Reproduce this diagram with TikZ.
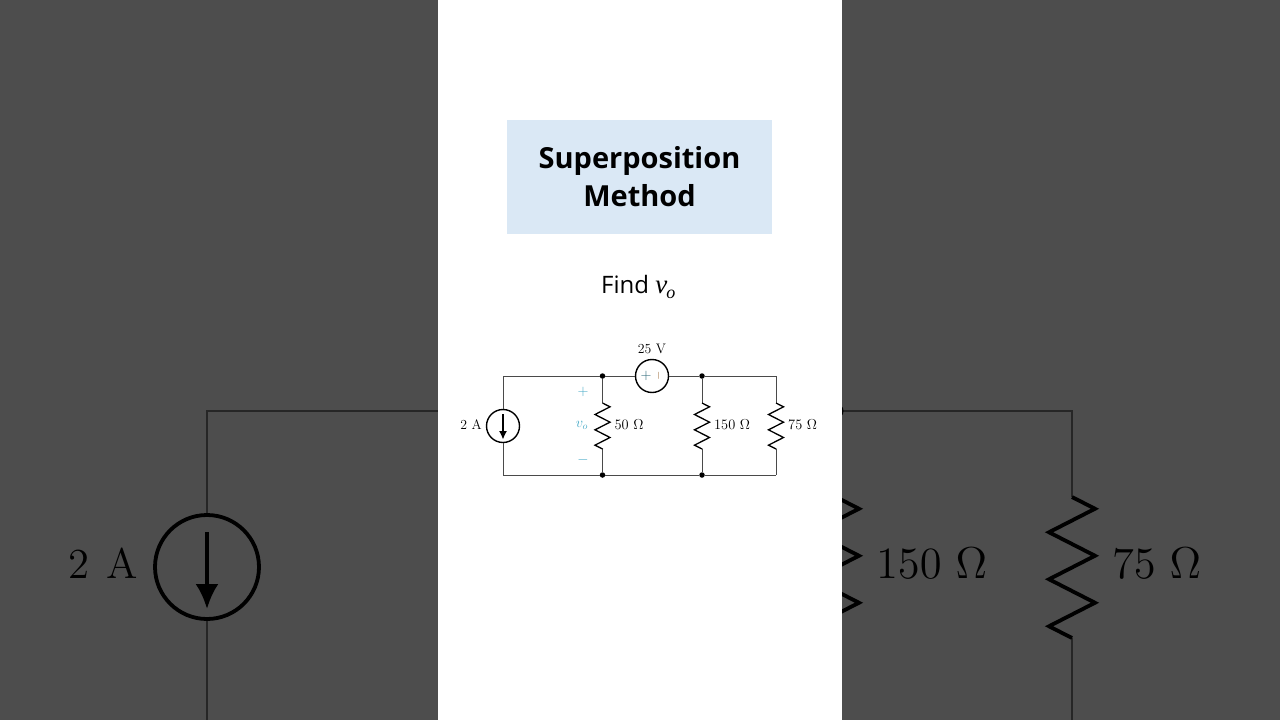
\documentclass[tikz,border=0pt]{standalone}
\usepackage{fontspec}
\usepackage{amsmath}
\usetikzlibrary{arrows.meta,decorations.pathmorphing}
\newfontfamily\titlefont{Open Sans}
\newfontfamily\varfont{Liberation Serif}
\definecolor{dimbg}{HTML}{4D4D4D}
\definecolor{titlebg}{HTML}{DAE8F5}
\definecolor{vocolor}{HTML}{48ABC8}
\definecolor{wiregray}{HTML}{4A4A4A}
\tikzset{
  wire/.style={draw=wiregray,line width=1pt},
  res/.style={draw=black,line width=1.3pt,decorate,decoration={zigzag,segment length=15.33pt,amplitude=7.5pt}},
  src/.style={circle,draw=black,line width=1.4pt,minimum size=33pt,inner sep=0pt},
  dot/.style={circle,fill=black,minimum size=5.5pt,inner sep=0pt},
  val/.style={inner sep=0pt,font=\fontsize{13.8}{16}\selectfont},
  bigwire/.style={draw=black!85,line width=1.4pt},
  bigres/.style={draw=black,line width=3.8pt,decorate,decoration={zigzag,segment length=47pt,amplitude=23pt}},
  bigval/.style={inner sep=0pt,text=black,scale=3.1,font=\fontsize{13.8}{16}\selectfont},
}
\begin{document}
\begin{tikzpicture}[x=1pt,y=-1pt]
\useasboundingbox (0,0) rectangle (1280,720);
% Dimmed background
\fill[dimbg] (0,0) rectangle (1280,720);
\coordinate (bigtl) at (207,411);
\coordinate (bigbl) at (207,720);
\coordinate (bigtr) at (1072,411);
\coordinate (bigbr) at (1072,720);
\coordinate (bigm) at (836,411);
\coordinate (bigmb) at (836,720);
\coordinate (bigra) at (1072,497);
\coordinate (bigrb) at (1072,638);
\coordinate (bigma) at (836,497);
\coordinate (bigmc) at (836,638);
\node[circle,draw=black,line width=3.8pt,minimum size=104pt,inner sep=0pt] (bigsrc) at (207,567) {};
\coordinate (bigsa) at (207,532);
\coordinate (bigsb) at (207,609);
\draw[bigwire] (bigsrc) -- (bigtl) -- (bigtr) -- (bigra);
\draw[bigwire] (bigsrc) -- (bigbl);
\draw[bigwire] (bigrb) -- (bigbr);
\draw[bigwire] (bigm) -- (bigma);
\draw[bigwire] (bigmc) -- (bigmb);
\draw[bigres] (bigra) -- (bigrb);
\draw[bigres] (bigma) -- (bigmc);
\draw[line width=3.8pt,-{Latex[length=25pt,width=23pt]}] (bigsa) -- (bigsb);
\node[dot,minimum size=15pt] (bigdot) at (bigm) {};
\node[bigval,anchor=east] (bigsrclbl) at (139,563) {2\kern1pt~A};
\node[bigval,anchor=west] (bigmlbl) at (875.5,563) {$150~\Omega$};
\node[bigval,anchor=west] (bigrlbl) at (1111.5,563) {$75~\Omega$};
% White panel
\fill[white] (438,0) rectangle (842,720);
% Title
\node[fill=titlebg,minimum width=265pt,minimum height=114pt,inner sep=0pt,align=center,
  font=\titlefont\bfseries\fontsize{29}{38}\selectfont] (title) at (639.5,177) {Superposition\\Method};
\node[inner sep=0pt,anchor=west,font=\titlefont\fontsize{24}{28}\selectfont] (find) at (601,286.5)
  {Find {\varfont\itshape\fontsize{27}{28}\selectfont v\kern-1pt\raisebox{-5pt}{\fontsize{18}{20}\selectfont o}}};
% Junctions
\node[dot] (n1) at (602.5,376) {};
\node[dot] (n2) at (702,376) {};
\node[dot] (n3) at (602.5,475) {};
\node[dot] (n4) at (702,475) {};
\coordinate (tl) at (503,376);
\coordinate (bl) at (503,475);
\coordinate (tr) at (776,376);
\coordinate (br) at (776,475);
% Sources
\node[src] (isrc) at (503,426) {};
\node[src] (vsrc) at (652,376) {};
\coordinate (ia) at (503,414);
\coordinate (ib) at (503,439.5);
\draw[line width=1.4pt,-{Latex[length=8.5pt,width=8pt]}] (ia) -- (ib);
\node[inner sep=0pt,text=black!40!vocolor,font=\fontsize{14}{15}\selectfont] (vplus) at (646,376) {$+$};
\node[inner sep=0pt,text=brown!80!black,rotate=90,font=\fontsize{12}{15}\selectfont] (vminus) at (658.5,376) {$-$};
% Wires
\draw[wire] (isrc) -- (tl) -- (n1) -- (vsrc) -- (n2) -- (tr);
\draw[wire] (isrc) -- (bl) -- (n3) -- (n4) -- (br);
% Resistors
\foreach \name/\xpos/\top/\bot in {ra/602.5/n1/n3,rb/702/n2/n4,rc/776/tr/br}{
  \coordinate (\name a) at (\xpos,403);
  \coordinate (\name b) at (\xpos,449);
  \draw[wire] (\top) -- (\name a);
  \draw[wire] (\name b) -- (\bot);
  \draw[res] (\name a) -- (\name b);
}
% Labels
\node[val] (vlbl) at (652,349) {25~V};
\node[val,anchor=east] (ilbl) at (482,424.5) {2~A};
\node[val,anchor=west] (ralbl) at (614.5,424.5) {$50~\Omega$};
\node[val,anchor=west] (rblbl) at (714,424.5) {$150~\Omega$};
\node[val,anchor=west] (rclbl) at (788,424.5) {$75~\Omega$};
\node[val,text=vocolor] (volbl) at (582,425) {$v_o$};
\node[val,text=vocolor] (voplus) at (583,391.5) {$+$};
\node[val,text=vocolor] (vominus) at (583,459.5) {$-$};
\end{tikzpicture}
\end{document}
